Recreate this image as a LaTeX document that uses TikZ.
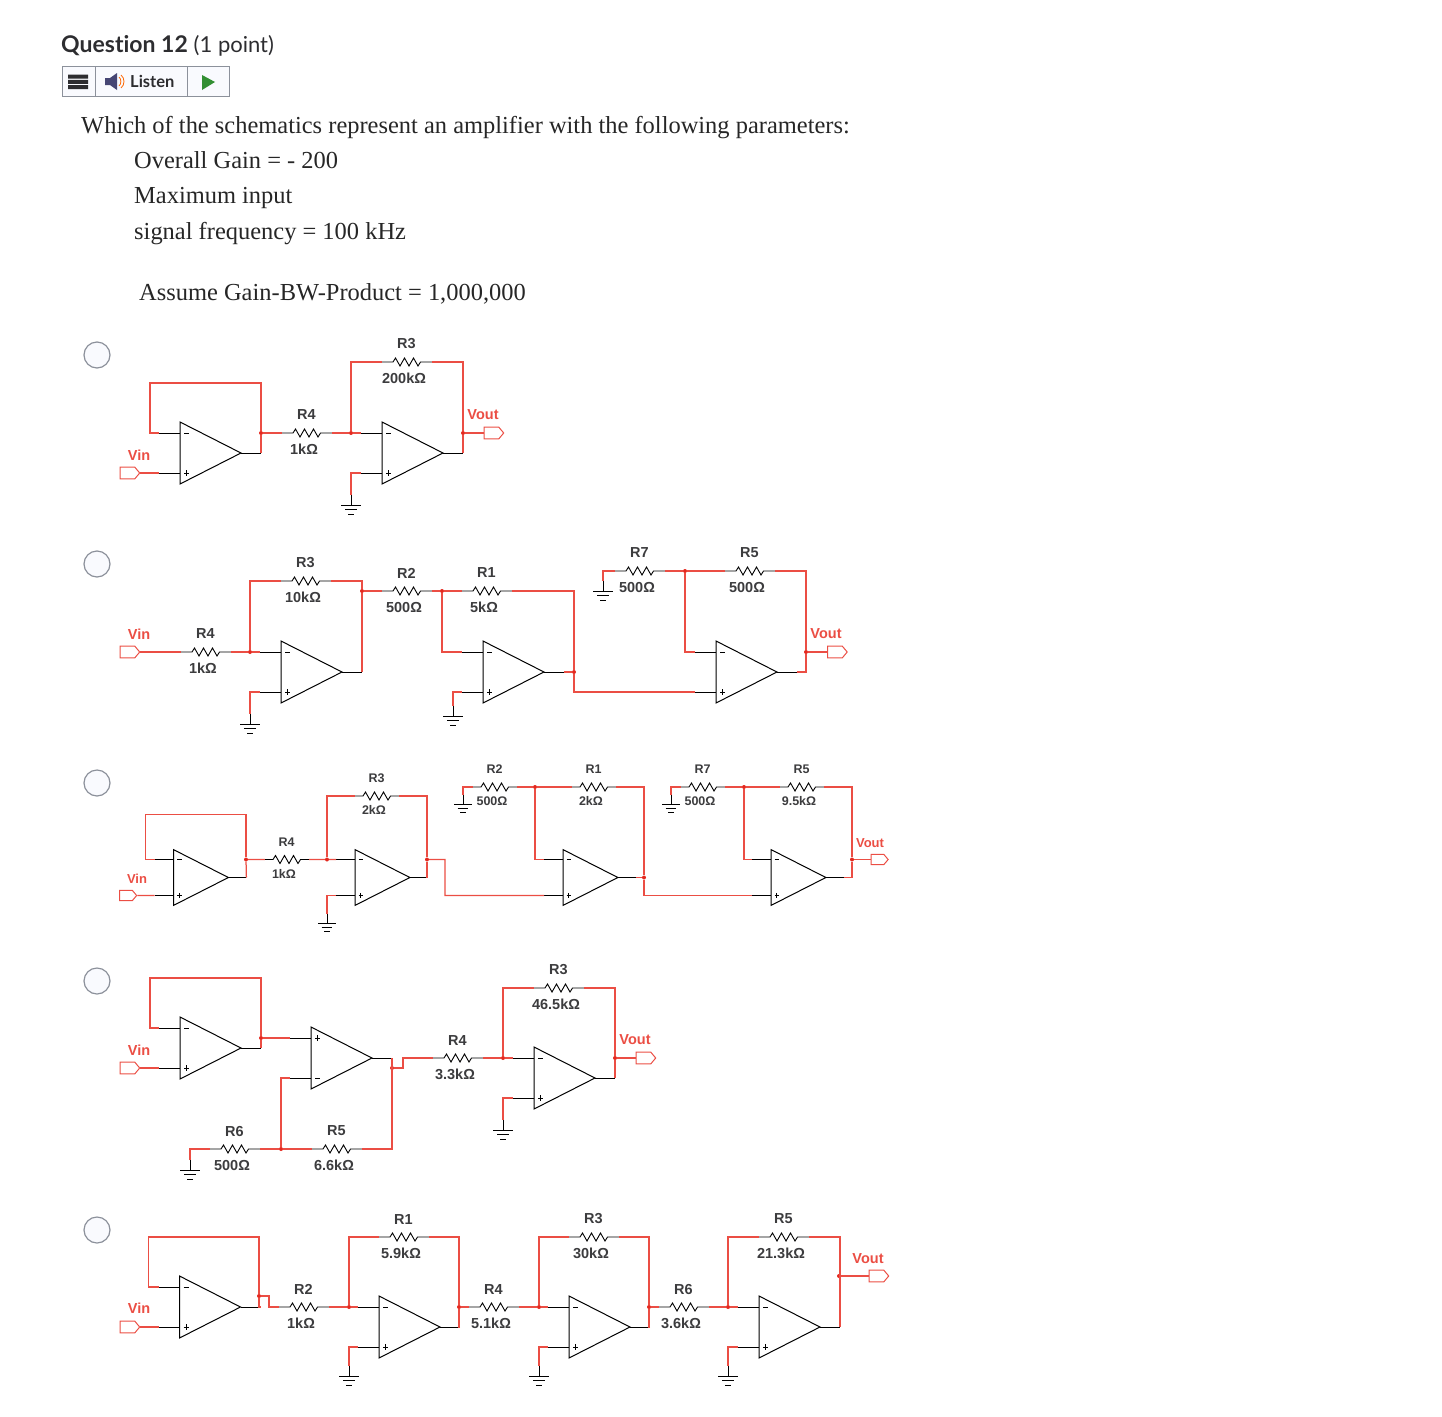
\documentclass[tikz,border=0pt]{standalone}
\usepackage{fontspec}
\setmainfont{Liberation Sans}
\newfontfamily\latofont[Ligatures=NoCommon]{Lato}
\newfontfamily\serfont{Liberation Serif}
\usetikzlibrary{shapes.symbols}
\definecolor{wirered}{RGB}{235,78,68}
\definecolor{dotred}{RGB}{228,40,30}
\definecolor{inkgray}{RGB}{45,45,48}
\definecolor{labgray}{RGB}{60,60,62}
\definecolor{panel}{RGB}{249,250,254}
\definecolor{rim}{RGB}{140,145,155}
\tikzset{
  wire/.style={draw=wirered,line width=1.25pt},
  dot/.style={circle,fill=dotred,inner sep=0,minimum size=4pt},
  radio/.style={circle,draw=rim,fill=panel,line width=1.2pt,inner sep=0,minimum size=26pt},
  port/.style={signal,signal to=east,signal pointer angle=100,draw=wirered,line width=1pt,inner sep=0,minimum width=#1pt,minimum height=.6*#1pt},
  netlab/.style={text=wirered,font=\bfseries\fontsize{14.5}{16}\selectfont,inner sep=0},
  smalllab/.style={text=wirered,font=\bfseries\fontsize{13}{14}\selectfont,inner sep=0},
  resbase/.style n args={6}{inner sep=0,minimum width=#1pt,minimum height=12pt,
    path picture={\draw[black,line width=.9pt] (path picture bounding box.west) -- ([xshift=-14pt]path picture bounding box.center) -- ++(2.5,-4) -- ++(4.5,8) -- ++(4.5,-8) -- ++(4.5,8) -- ++(4.5,-8) -- ++(4.5,8) -- ++(2.5,-4) -- (path picture bounding box.east);},
    label={[anchor=center,inner sep=0,text=labgray,font=#6,xshift=-.5pt,yshift=#2pt]center:#4},
    label={[anchor=center,inner sep=0,text=labgray,font=#6,xshift=-3pt,yshift=-#3pt]center:#5}},
  res/.style 2 args={resbase={50}{18}{16.5}{#1}{#2}{\bfseries\fontsize{14.5}{16}\selectfont}},
  smallres/.style 2 args={resbase={44}{17.5}{14}{#1}{#2}{\bfseries\fontsize{12.5}{14}\selectfont}},
  pics/opamp/.style={code={
    \draw[black,line width=1pt] (0,-31) -- (0,31) -- (61,0) -- cycle;
    \draw[black,line width=1pt] (0,-20) -- (-21,-20) (0,20) -- (-21,20) (61,0) -- (81,0);
    \draw[black,line width=.8pt] (4,-20) -- (9,-20) (4,20) -- (9,20) (6.5,17) -- (6.5,23);
    \coordinate (-m) at (-21,-20);
    \coordinate (-p) at (-21,20);
    \coordinate (-o) at (81,0);
  }},
  pics/gnd/.style={code={
    \draw[black,line width=1pt] (0,0) -- (0,10) (-10,10) -- (10,10) (-6,14.5) -- (6,14.5) (-3,19) -- (3,19);
    \coordinate (-t) at (0,0);
  }}
}
\begin{document}
\begin{tikzpicture}[x=1pt,y=-1pt]
\useasboundingbox (0,0) rectangle (1442,1416);
% header
\node[anchor=base west,inner sep=0,text=inkgray,font=\latofont\fontsize{23}{26}\selectfont] (title) at (61,52) {\textbf{Question 12} {\fontsize{22}{26}\selectfont(1 point)}};
\node[draw=rim,fill=panel,line width=1pt,inner sep=0,minimum width=167pt,minimum height=30pt] (listenbar) at (146,81.5) {};
\draw[rim,line width=1pt] (95,66.5) -- (95,96.5) (187,66.5) -- (187,96.5);
\fill[inkgray] (68,74.5) rectangle (88,78.5) (68,79.8) rectangle (88,83.8) (68,85.2) rectangle (88,89.2);
\fill[black!60!blue!45!gray] (105,78) -- (110,78) -- (117,73) -- (117,90) -- (110,85) -- (105,85) -- cycle;
\draw[orange!80!red,line width=.8pt] (119,77) .. controls (121.5,79) and (121.5,84) .. (119,86) (121,75) .. controls (125,78) and (125,85) .. (121,88);
\node[anchor=base west,inner sep=0,text=inkgray,font=\latofont\bfseries\fontsize{16.5}{18}\selectfont] (listen) at (130,87) {Listen};
\fill[green!45!black!80] (202,75) -- (215,82) -- (202,90) -- cycle;
% question text
\foreach \n/\x/\y/\t in {q1/81/133/Which of the schematics represent an amplifier with the following parameters:,q2/134/168/Overall Gain = - 200,q3/134/203/Maximum input,q4/134/239/signal frequency = 100 kHz,q5/139/300/{Assume Gain-BW-Product = 1,000,000}}
  \node[anchor=base west,inner sep=0,text=black!85,font=\serfont\fontsize{24.45}{28}\selectfont] (\n) at (\x,\y) {\t};
\foreach \y in {355,564,783,981,1230}
  \node[radio] (o\y) at (97,\y) {};
% amplifiers
\foreach \n/\x/\y in {a1/180/453,a2/382/453,b1/281/672,b2/483/672,b3/716/672,d1/180/1048,d3/534/1078,e1/179.5/1307,e2/379/1327,e3/569/1327,e4/759/1327}
  \pic (\n) at (\x,\y) {opamp};
\pic[yscale=-1] (d2) at (311,1058) {opamp};
\foreach \n/\x/\y in {c1/173.5/877.5,c2/355/877.5,c3/563/877.5,c4/771/877.5}
  \pic[scale=.9] (\n) at (\x,\y) {opamp};
\foreach \n/\x/\y in {ag/351/495,bg1/250/714,bg2/453/706,bg3/603/581,dg1/190/1160,dg2/503/1120,eg1/349/1366,eg2/539/1366,eg3/728/1366}
  \pic (\n) at (\x,\y) {gnd};
\foreach \n/\x/\y in {cg1/327/914,cg2/463/795,cg3/671/795}
  \pic[scale=.9] (\n) at (\x,\y) {gnd};
% resistors
\foreach \n/\x/\y/\l/\v in {aR4/307/433/R4/1kΩ,aR3/407/362/R3/200kΩ,
  bR4/206/652/R4/1kΩ,bR3/306/581/R3/10kΩ,bR2/407/591/R2/500Ω,bR1/487/591/R1/5kΩ,bR7/640/571/R7/500Ω,bR5/750/571/R5/500Ω,
  dR4/458/1058/R4/3.3kΩ,dR3/559/988/R3/46.5kΩ,dR6/235/1149/R6/500Ω,dR5/337/1149/R5/6.6kΩ,
  eR2/304/1307/R2/1kΩ,eR1/404/1237/R1/5.9kΩ,eR4/494/1307/R4/5.1kΩ,eR3/594/1237/R3/30kΩ,eR6/684/1307/R6/3.6kΩ,eR5/784/1237/R5/21.3kΩ}
  \node[res={\l}{\v}] (\n) at (\x,\y) {};
\foreach \n/\x/\y/\l/\v in {cR4/287/859.5/R4/1kΩ,cR3/377/796/R3/2kΩ,cR2/495/787/R2/500Ω,cR1/594/787/R1/2kΩ,cR7/703/787/R7/500Ω,cR5/802/787/R5/9.5kΩ}
  \node[smallres={\l}{\v}] (\n) at (\x,\y) {};
% junctions
\foreach \n/\x/\y in {aj1/261/433,aj2/351/433,aj3/463/433,
  bj1/250/652,bj2/362/591,bj3/442/591,bj4/574/672,bj5/685/571,bj6/806/652,
  cj1/246/859.5,cj2/327/859.5,cj3/427/859.5,cj4/535/787,cj5/644/877.5,cj6/744/787,cj7/852/859.5,
  dj1/261/1038,dj2/392/1068,dj3/503/1058,dj4/615/1058,dj5/281/1149,
  ej1/259/1296,ej2/349/1307,ej3/459/1307,ej4/539/1307,ej5/649/1307,ej6/728/1307,ej7/839/1276}
  \node[dot] (\n) at (\x,\y) {};
% ports
\foreach \n/\x/\y in {aVin/127.5/473,aVout/491.5/433,bVin/127.5/652,bVout/835/652,dVin/127.5/1068,dVout/643.5/1058,eVin/127.5/1327,eVout/876.5/1276}
  \node[port=19.5] (\n) at (\x,\y) {};
\foreach \n/\x/\y in {cVin/126/895.5,cVout/877.5/859.5}
  \node[port=17] (\n) at (\x,\y) {};
\foreach \n/\x/\y/\t in {aVi/139/455/Vin,aVo/483/415/Vout,bVi/139/634/Vin,bVo/826/634/Vout,dVi/139/1050/Vin,dVo/635/1040/Vout,eVi/139/1308/Vin,eVo/868/1259/Vout}
  \node[netlab] (\n) at (\x,\y) {\t};
\foreach \n/\x/\y/\t in {cVi/137/879/Vin,cVo/870/843/Vout}
  \node[smalllab] (\n) at (\x,\y) {\t};
% first schematic
\draw[wire] (aVin) -- (a1-p);
\draw[wire] (a1-m) -| ++(-9,-50) -| (aj1);
\draw[wire] (a1-o) -- (aj1) -- (aR4) -- (aj2) -- (a2-m);
\draw[wire] (aj2) |- (aR3);
\draw[wire] (aR3) -| (aj3);
\draw[wire] (a2-o) -- (aj3) -- (aVout);
\draw[wire] (a2-p) -| (ag-t);
% second schematic
\draw[wire] (bVin) -- (bR4) -- (bj1) -- (b1-m);
\draw[wire] (b1-p) -| (bg1-t);
\draw[wire] (bj1) |- (bR3);
\draw[wire] (bR3) -| (bj2);
\draw[wire] (b1-o) -| (bj2);
\draw[wire] (bj2) -- (bR2) -- (bj3) -- (bR1);
\draw[wire] (bR1) -| (bj4);
\draw[wire] (b2-o) -- (bj4);
\draw[wire] (bj3) |- (b2-m);
\draw[wire] (b2-p) -| (bg2-t);
\draw[wire] (bj4) |- (b3-p);
\draw[wire] (bg3-t) |- (bR7);
\draw[wire] (bR7) -- (bj5) -- (bR5);
\draw[wire] (bj5) |- (b3-m);
\draw[wire] (bR5) -| (bj6);
\draw[wire] (b3-o) -| (bj6);
\draw[wire] (bj6) -- (bVout);
% third schematic
\draw[wire] (cVin) -- (c1-p);
\draw[wire] (c1-m) -| ++(-9,-45) -| (cj1);
\draw[wire] (c1-o) -- (cj1) -- (cR4) -- (cj2) -- (c2-m);
\draw[wire] (c2-p) -| (cg1-t);
\draw[wire] (cj2) |- (cR3);
\draw[wire] (cR3) -| (cj3);
\draw[wire] (c2-o) -| (cj3);
\draw[wire] (cj3) -| ++(18,36) -- (c3-p);
\draw[wire] (cg2-t) |- (cR2);
\draw[wire] (cR2) -- (cj4) -- (cR1);
\draw[wire] (cj4) |- (c3-m);
\draw[wire] (cR1) -| (cj5);
\draw[wire] (c3-o) -- (cj5);
\draw[wire] (cj5) |- (c4-p);
\draw[wire] (cg3-t) |- (cR7);
\draw[wire] (cR7) -- (cj6) -- (cR5);
\draw[wire] (cj6) |- (c4-m);
\draw[wire] (cR5) -| (cj7);
\draw[wire] (c4-o) -| (cj7);
\draw[wire] (cj7) -- (cVout);
% fourth schematic
\draw[wire] (dVin) -- (d1-p);
\draw[wire] (d1-m) -| ++(-9,-50) -| (dj1);
\draw[wire] (d1-o) -| (dj1);
\draw[wire] (dj1) -- (d2-p);
\draw[wire] (d2-m) -| (dj5);
\draw[wire] (dg1-t) |- (dR6);
\draw[wire] (dR6) -- (dj5) -- (dR5);
\draw[wire] (dR5) -| (d2-o);
\draw[wire] (dj2) -| ++(11,-10) -- (dR4);
\draw[wire] (dR4) -- (dj3) -- (d3-m);
\draw[wire] (d3-p) -| (dg2-t);
\draw[wire] (dj3) |- (dR3);
\draw[wire] (dR3) -| (dj4);
\draw[wire] (d3-o) -| (dj4);
\draw[wire] (dj4) -- (dVout);
% fifth schematic
\draw[wire] (eVin) -- (e1-p);
\draw[wire] (e1-m) -| ++(-10,-50) -| (ej1);
\draw[wire] (e1-o) -| (ej1);
\draw[wire] (ej1) -| ++(10,11) -- (eR2);
\draw[wire] (eR2) -- (ej2) -- (e2-m);
\draw[wire] (e2-p) -| (eg1-t);
\draw[wire] (ej2) |- (eR1);
\draw[wire] (eR1) -| (ej3);
\draw[wire] (e2-o) -| (ej3);
\draw[wire] (ej3) -- (eR4) -- (ej4) -- (e3-m);
\draw[wire] (e3-p) -| (eg2-t);
\draw[wire] (ej4) |- (eR3);
\draw[wire] (eR3) -| (ej5);
\draw[wire] (e3-o) -| (ej5);
\draw[wire] (ej5) -- (eR6) -- (ej6) -- (e4-m);
\draw[wire] (e4-p) -| (eg3-t);
\draw[wire] (ej6) |- (eR5);
\draw[wire] (eR5) -| (e4-o);
\draw[wire] (ej7) -- (eVout);
\end{tikzpicture}
\end{document}
